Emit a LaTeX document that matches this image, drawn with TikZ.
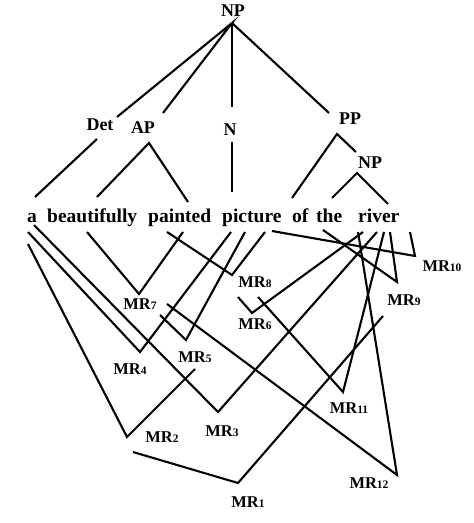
\documentclass[tikz,border=0pt]{standalone}
\usepackage{fontspec}
\setmainfont{Liberation Serif}
\usepackage{tikz}
\tikzset{
  branch/.style={line width=2.1bp},
  cat/.style={font=\fontsize{18}{18}\selectfont\bfseries,inner sep=0pt},
  word/.style={font=\fontsize{19.6}{20}\selectfont\bfseries,inner sep=0pt,anchor=base west},
  rel/.style={font=\fontsize{16.5}{16.5}\selectfont\bfseries,inner sep=0pt}
}
\newcommand{\mrel}[1]{MR{\fontsize{11.5}{11.5}\selectfont #1}}

\begin{document}
\begin{tikzpicture}[x=1bp,y=-1bp]
      \useasboundingbox (0,0) rectangle (474,523);

      \node[cat] (np) at (233,11) {NP};
      \node[cat] (det) at (100,125) {Det};
      \node[cat] (ap) at (143,128) {AP};
      \node[cat] (n) at (230,130) {N};
      \node[cat] (pp) at (350,119) {PP};
      \node[cat] (np2) at (370,163) {NP};

      \node[word] (a) at (27,222) {a};
      \node[word] (beautifully) at (47,222) {beautifully};
      \node[word] (painted) at (148,222) {painted};
      \node[word] (picture) at (222,222) {picture};
      \node[word] (of) at (292,222) {of};
      \node[word] (the) at (316,222) {the};
      \node[word] (river) at (358,222) {river};

      \node[rel] (mr1) at (248,502) {\mrel{1}};
      \node[rel] (mr2) at (162,437) {\mrel{2}};
      \node[rel] (mr3) at (222,431) {\mrel{3}};
      \node[rel] (mr4) at (130,369) {\mrel{4}};
      \node[rel] (mr5) at (195,357) {\mrel{5}};
      \node[rel] (mr6) at (255,324) {\mrel{6}};
      \node[rel] (mr7) at (140,304) {\mrel{7}};
      \node[rel] (mr8) at (255,282) {\mrel{8}};
      \node[rel] (mr9) at (404,300) {\mrel{9}};
      \node[rel] (mr10) at (442,266) {\mrel{10}};
      \node[rel] (mr11) at (349,408) {\mrel{11}};
      \node[rel] (mr12) at (369,483) {\mrel{12}};

      \coordinate (top) at (232,23);
      \coordinate (det-n) at (117,117);
      \coordinate (ap-n) at (163,113);
      \coordinate (n-n) at (232,107);
      \coordinate (pp-n) at (329,113);
      \coordinate (det-s) at (97,139);
      \coordinate (ap-s) at (149,143);
      \coordinate (n-s) at (232,142);
      \coordinate (pp-s) at (337,134);
      \coordinate (np2-n) at (356,152);
      \coordinate (np2-s) at (357,173);
      \coordinate (a-t) at (35,197);
      \coordinate (beautifully-t) at (97,197);
      \coordinate (painted-t) at (188,202);
      \coordinate (picture-t) at (232,192);
      \coordinate (of-t) at (292,198);
      \coordinate (the-t) at (332,198);
      \coordinate (river-t) at (388,204);

      \coordinate (m1) at (238,483);
      \coordinate (m1l) at (133,452);
      \coordinate (m1r) at (383,316);
      \coordinate (m2) at (127,437);
      \coordinate (m2l) at (28,244);
      \coordinate (m2r) at (195,369);
      \coordinate (m3) at (218,412);
      \coordinate (m3l) at (34,225);
      \coordinate (m3r) at (377,232);
      \coordinate (m4) at (140,352);
      \coordinate (m4l) at (28,232);
      \coordinate (m4r) at (231,232);
      \coordinate (m5) at (186,340);
      \coordinate (m5l) at (160,315);
      \coordinate (m5r) at (245,232);
      \coordinate (m6) at (252,313);
      \coordinate (m6l) at (238,297);
      \coordinate (m6r) at (363,232);
      \coordinate (m7) at (139,294);
      \coordinate (m7l) at (87,232);
      \coordinate (m7r) at (183,232);
      \coordinate (m8) at (232,275);
      \coordinate (m8l) at (167,232);
      \coordinate (m8r) at (265,232);
      \coordinate (m9) at (397,282);
      \coordinate (m9l) at (323,230);
      \coordinate (m9r) at (390,232);
      \coordinate (m10) at (415,256);
      \coordinate (m10l) at (272,231);
      \coordinate (m10r) at (410,232);
      \coordinate (m11) at (343,392);
      \coordinate (m11l) at (258,297);
      \coordinate (m11r) at (384,232);
      \coordinate (m12) at (397,475);
      \coordinate (m12l) at (167,304);
      \coordinate (m12r) at (358,232);

      \draw[branch] (det-n) -- (top) -- (ap-n);
      \draw[branch] (top) -- (n-n);
      \draw[branch] (top) -- (pp-n);
      \draw[branch] (det-s) -- (a-t);
      \draw[branch] (beautifully-t) -- (ap-s) -- (painted-t);
      \draw[branch] (n-s) -- (picture-t);
      \draw[branch] (of-t) -- (pp-s) -- (np2-n);
      \draw[branch] (the-t) -- (np2-s) -- (river-t);

      \draw[branch] (m1l) -- (m1) -- (m1r);
      \draw[branch] (m2l) -- (m2) -- (m2r);
      \draw[branch] (m3l) -- (m3) -- (m3r);
      \draw[branch] (m4l) -- (m4) -- (m4r);
      \draw[branch] (m5l) -- (m5) -- (m5r);
      \draw[branch] (m6l) -- (m6) -- (m6r);
      \draw[branch] (m7l) -- (m7) -- (m7r);
      \draw[branch] (m8l) -- (m8) -- (m8r);
      \draw[branch] (m9l) -- (m9) -- (m9r);
      \draw[branch] (m10l) -- (m10) -- (m10r);
      \draw[branch] (m11l) -- (m11) -- (m11r);
      \draw[branch] (m12l) -- (m12) -- (m12r);
\end{tikzpicture}
\end{document}
